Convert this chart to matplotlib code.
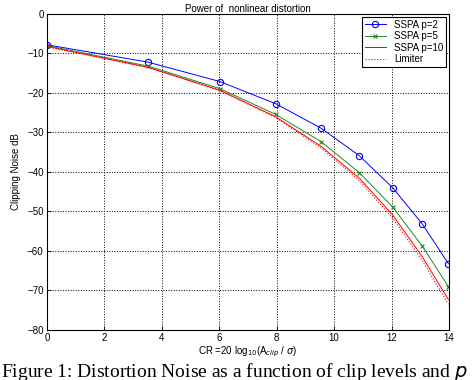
import numpy as np
import matplotlib
matplotlib.use('Agg')
import matplotlib.pyplot as plt

# clip ratio A_clip/sigma = 1, 1.5, ... 5  ->  CR in dB
A_clip = [1.0, 1.5, 2.0, 2.5, 3.0, 3.5, 4.0, 4.5, 5.0]
CR = 20.0 * np.log10(A_clip)

noise_p2 = [-7.8, -12.2, -17.1, -22.7, -28.9, -35.9, -44.0, -53.1, -63.2]
noise_p5 = [-8.0, -13.2, -18.9, -25.4, -32.3, -40.2, -48.9, -58.7, -69.0]
noise_p10 = [-8.2, -13.5, -19.3, -26.0, -33.5, -41.6, -50.9, -61.4, -72.3]
noise_lim = [-8.3, -13.6, -19.4, -26.2, -33.9, -42.2, -51.7, -62.4, -73.5]

plt.rcParams['font.family'] = ['Liberation Sans', 'DejaVu Sans']

fig = plt.figure(figsize=(4.74, 3.8), dpi=100)
ax = fig.add_axes([0.0992, 0.1316, 0.848, 0.8316])

ax.plot(CR, noise_p2, 'b-', marker='o', mfc='none', ms=4.5, mew=0.8, lw=0.7, label='SSPA p=2')
ax.plot(CR, noise_p5, '-', color='#1f8a1f', marker='x', ms=3.5, mew=0.8, lw=0.7, label='SSPA p=5')
ax.plot(CR, noise_p10, 'r-', lw=0.7, label='SSPA p=10')
ax.plot(CR, noise_lim, 'r:', lw=0.8, label='Limiter')

ax.set_xlim(0, 14)
ax.set_ylim(-80, 0)
ax.set_xticks(np.arange(0, 15, 2))
ax.set_yticks(np.arange(-80, 1, 10))
ax.tick_params(direction='in', labelsize=7, length=3, width=0.6, pad=2.5)
ax.grid(True, linestyle=':', color='k', lw=0.7)
for s in ax.spines.values():
    s.set_linewidth(0.8)

ax.set_title('Power of  nonlinear distortion', fontsize=7, pad=1.5)
ax.set_xlabel(r'CR =20 log$_{10}$(A$_{clip}$ / $\sigma$)', fontsize=7, labelpad=1)
ax.set_ylabel('Clipping Noise dB', fontsize=7, labelpad=4)

leg = ax.legend(loc='upper right', fontsize=7, fancybox=False, edgecolor='k',
                framealpha=1, borderaxespad=0.3, handlelength=2.2,
                labelspacing=0.15, borderpad=0.3)
leg.get_frame().set_linewidth(0.8)

fig.text(0.002, 0.007, r'Figure 1: Distortion Noise as a function of clip levels and $p$',
         fontsize=14, family='Liberation Serif', ha='left', va='baseline')

fig.savefig('out.png', dpi=100)
